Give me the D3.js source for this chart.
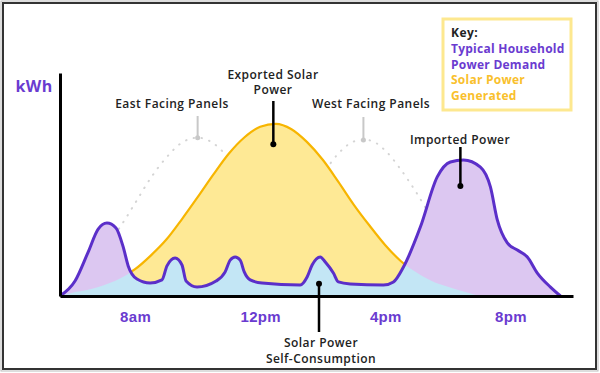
<!DOCTYPE html>
<html lang="en">
<head>
<meta charset="UTF-8">
<title>Solar self-consumption</title>
<script src="https://cdnjs.cloudflare.com/ajax/libs/d3/7.8.5/d3.min.js"></script>
<style>
  html, body { margin:0; padding:0; background:#fff; }
  svg { display:block; font-family:"Open Sans", sans-serif; }
  .lbl { font-size:12px; font-weight:600; fill:#222; letter-spacing:0.45px; }
  .tick text { font-size:15px; font-weight:700; fill:#6a3bd0; letter-spacing:0.3px; }
</style>
</head>
<body>
<svg id="chart" width="600" height="373"></svg>
<script>
// hours of day on x, kWh (no scale shown) on y
var tickHours = [8, 12, 16, 20];
var tickLabels = ["8am", "12pm", "4pm", "8pm"];

// typical household power demand [hour, kWh]
var demand = [
  [5.6,0],[6.08,0.67],[6.5,1.97],[6.82,3.0],[7.1,3.27],[7.39,3.05],[7.62,2.2],
  [7.78,1.35],[8.06,0.76],[8.48,0.58],[8.86,0.72],[9.02,1.35],[9.28,1.7],
  [9.5,1.39],[9.63,0.67],[9.98,0.4],[10.59,0.67],[10.88,1.08],[11.04,1.61],
  [11.2,1.75],[11.36,1.61],[11.49,1.08],[11.68,0.72],[12.06,0.58],[13.28,0.49],
  [13.5,0.85],[13.66,1.39],[13.92,1.75],[14.08,1.52],[14.34,1.03],[14.5,0.63],
  [14.88,0.54],[15.94,0.49],[16.26,0.63],[16.58,1.3],[17.12,3.09],[17.66,5.34],
  [18.08,6.01],[18.5,6.1],[19.04,5.78],[19.36,4.89],[19.58,3.41],[19.9,2.38],
  [20.22,2.06],[20.54,1.75],[20.86,1.03],[21.28,0.4],[21.6,0]
];

// solar power generated [hour, kWh]
var solar = [
  [5.6,0],[6,0.15],[6.5,0.28],[7,0.48],[7.5,0.77],[8,1.2],[8.5,1.81],[9,2.53],
  [9.5,3.45],[10,4.43],[10.5,5.44],[11,6.39],[11.5,7.12],[12,7.59],[12.5,7.72],
  [13,7.48],[13.5,6.9],[14,6.11],[14.5,5.12],[15,4.08],[15.5,3.15],[16,2.28],
  [16.5,1.56],[17,1.05],[17.5,0.66],[18,0.41],[18.5,0.2],[19,0]
];

// dotted curves for east / west facing panels
var eastPanels = [
  [6.5,1.36],[7,2.13],[7.5,3.05],[8,4.16],[8.5,5.29],[9,6.21],[9.5,6.88],
  [10,7.1],[10.5,6.85],[11,6.16],[11.5,5.22],[12,4.09],[12.5,2.98],[13,2.0]
];
var westPanels = [
  [13,3.25],[13.5,4.4],[14,5.46],[14.5,6.39],[15,6.93],[15.3,7.0],[15.5,6.98],
  [16,6.52],[16.5,5.66],[17,4.62],[17.5,3.46],[18,2.46]
];

var keyLines = ["Typical Household", "Power Demand", "Solar Power", "Generated"];

var svg = d3.select("#chart");

var x = d3.scaleLinear().domain([5.6, 22]).range([60, 573]);
var y = d3.scaleLinear().domain([0, 10]).range([296, 73]);

// outer frame
svg.append("rect").attr("x", 1).attr("y", 1).attr("width", 597).attr("height", 370)
  .attr("fill", "none").attr("stroke", "#bbb").attr("stroke-width", 1);
svg.append("rect").attr("x", 3).attr("y", 3).attr("width", 593).attr("height", 366)
  .attr("fill", "none").attr("stroke", "#333").attr("stroke-width", 2);

var line = d3.line().x(d => x(d[0])).y(d => y(d[1])).curve(d3.curveMonotoneX);
var area = d3.area().x(d => x(d[0])).y0(y(0)).y1(d => y(d[1])).curve(d3.curveMonotoneX);

// dotted panel curves (under everything)
[eastPanels, westPanels].forEach(function(p) {
  svg.append("path").attr("d", line(p)).attr("fill", "none")
    .attr("stroke", "#d4d4d4").attr("stroke-width", 2)
    .attr("stroke-dasharray", "0.5 7.5").attr("stroke-linecap", "round");
});

svg.append("clipPath").attr("id", "demandClip")
  .append("path").attr("d", area(demand));

// exported solar
svg.append("path").attr("d", area(solar)).attr("fill", "#fee995");
svg.append("path").attr("d", line(solar)).attr("fill", "none")
  .attr("stroke", "#f7b500").attr("stroke-width", 2.2);
// imported
svg.append("path").attr("d", area(demand)).attr("fill", "#dcc7f1");
// self consumption
svg.append("path").attr("d", area(solar)).attr("fill", "#c3e6f5")
  .attr("clip-path", "url(#demandClip)");
svg.append("path").attr("d", line(demand)).attr("fill", "none")
  .attr("stroke", "#5b2fc9").attr("stroke-width", 3);

// axes
var xAxis = svg.append("g").attr("transform", "translate(0," + y(0) + ")")
  .call(d3.axisBottom(x).tickValues(tickHours)
    .tickFormat((d, i) => tickLabels[i]).tickSize(0).tickPadding(15));
xAxis.select(".domain").attr("stroke", "#000").attr("stroke-width", 3);
xAxis.selectAll(".tick text").attr("font-family", null).attr("font-size", null);

var yAxis = svg.append("g").attr("transform", "translate(" + x(5.6) + ",0)")
  .call(d3.axisLeft(y).tickValues([]).tickSize(0));
yAxis.select(".domain").attr("stroke", "#000").attr("stroke-width", 3);

svg.append("text").attr("x", 34).attr("y", 92).attr("text-anchor", "middle")
  .attr("font-size", 16).attr("font-weight", 700).attr("fill", "#6a3bd0")
  .attr("letter-spacing", 0.4).text("kWh");

// panel pointers
function pointer(h, v, top, col, w, r) {
  svg.append("line").attr("x1", x(h)).attr("x2", x(h)).attr("y1", top).attr("y2", y(v))
    .attr("stroke", col).attr("stroke-width", w);
  svg.append("circle").attr("cx", x(h)).attr("cy", y(v)).attr("r", r).attr("fill", col);
}
pointer(10, 7.1, 116, "#c8c8c8", 2, 2.5);
pointer(15.3, 7.0, 117, "#c8c8c8", 2, 2.5);
pointer(12.42, 6.8, 101, "#000", 2.5, 3);
pointer(18.4, 4.93, 147, "#000", 2.5, 3);
// self consumption pointer goes downward
svg.append("line").attr("x1", x(13.88)).attr("x2", x(13.88)).attr("y1", y(0.55)).attr("y2", 332)
  .attr("stroke", "#000").attr("stroke-width", 2.5);
svg.append("circle").attr("cx", x(13.88)).attr("cy", y(0.55)).attr("r", 3).attr("fill", "#000");

function label(cx, by, lines) {
  lines.forEach(function(t, i) {
    svg.append("text").attr("class", "lbl").attr("x", cx).attr("y", by + i * 15.5)
      .attr("text-anchor", "middle").text(t);
  });
}
label(273, 78.5, ["Exported Solar", "Power"]);
label(172, 107.5, ["East Facing Panels"]);
label(371, 107.5, ["West Facing Panels"]);
label(460, 144, ["Imported Power"]);
label(321, 347, ["Solar Power", "Self-Consumption"]);

// key box
svg.append("rect").attr("x", 443).attr("y", 19).attr("width", 128).attr("height", 91)
  .attr("fill", "#fff").attr("stroke", "#fde88f").attr("stroke-width", 3);
svg.append("text").attr("class", "lbl").attr("x", 451).attr("y", 37)
  .style("font-weight", 700).text("Key:");
keyLines.forEach(function(t, i) {
  svg.append("text").attr("x", 451).attr("y", 53 + i * 15.7)
    .attr("font-size", 12).attr("font-weight", 700).attr("letter-spacing", 0.25)
    .attr("fill", i < 2 ? "#6a3bd0" : "#f9c02c").text(t);
});
</script>
</body>
</html>
